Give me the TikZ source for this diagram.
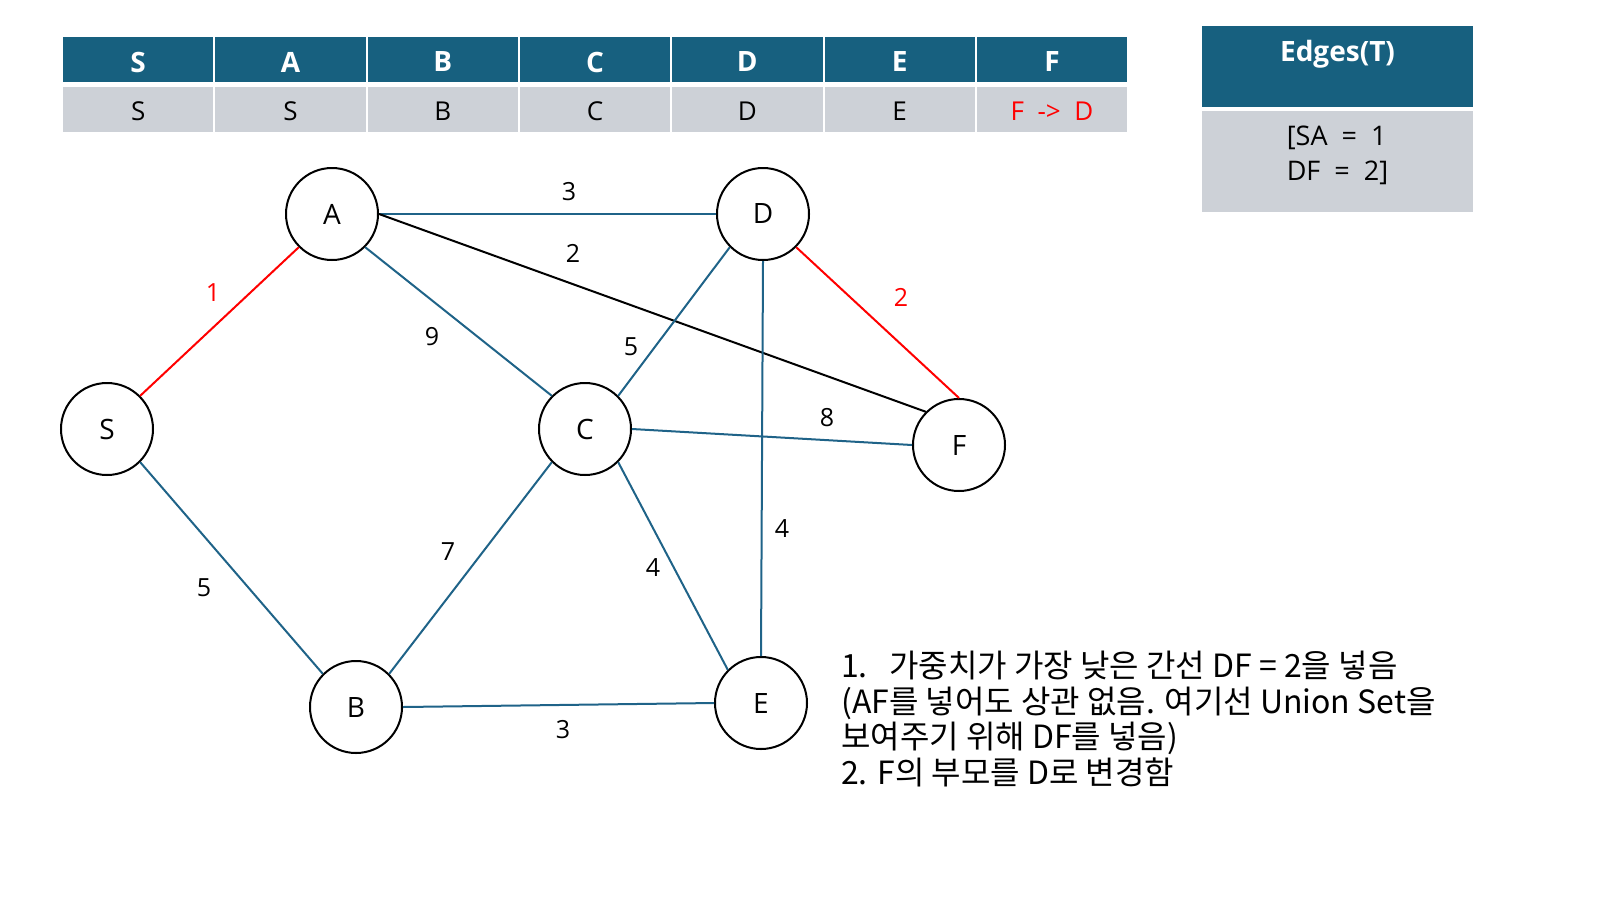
\documentclass[tikz,border=0pt]{standalone}
\usepackage{fontspec}
\setmainfont{Open Sans}
\newfontfamily\kr{Noto Sans CJK KR}
\definecolor{hdr}{HTML}{17607F}
\definecolor{cellgray}{HTML}{CDD1D7}
\definecolor{eblue}{HTML}{1F6388}
\definecolor{ered}{HTML}{FF0000}
\tikzset{
  vtx/.style={circle,draw=black,line width=2pt,fill=white,minimum size=92pt,inner sep=0pt,font=\fontsize{28}{32}\selectfont},
  bl/.style={draw=eblue,line width=2pt},
  rd/.style={draw=ered,line width=2pt},
  bk/.style={draw=black,line width=2pt},
  wlab/.style={font=\fontsize{25}{30}\selectfont,inner sep=0pt},
  hcell/.style={fill=hdr,draw=white,line width=2pt,minimum width=152.3pt,minimum height=47pt,inner sep=0pt,text=white,font=\bfseries\fontsize{28}{32}\selectfont},
  dcell/.style={fill=cellgray,draw=white,line width=2pt,minimum width=152.3pt,minimum height=47pt,inner sep=0pt,text=black,font=\fontsize{26}{30}\selectfont},
  celltext/.style={inner sep=0pt},
  note/.style={anchor=base west,inner sep=0pt,font=\kr\fontsize{32}{36}\selectfont}
}
\begin{document}
\begin{tikzpicture}[x=1pt,y=-1pt]
\useasboundingbox (0,0) rectangle (1600,900);
% table
\foreach \i/\h/\d in {0/S/S,1/A/S,2/B/B,3/C/C,4/D/D,5/E/E}{
  \node[hcell] (h\h) at (62+152.3*\i+76.15,59.5) {};
  \node[dcell] (d\h) at (62+152.3*\i+76.15,109.5) {};
  \node[celltext,text=white,font=\bfseries\fontsize{28}{32}\selectfont] (th\h) at (62+152.3*\i+76.15,62) {\h};
  \node[celltext,font=\fontsize{26}{30}\selectfont] (td\h) at (62+152.3*\i+76.15,111) {\d};
}
\node[hcell] (hF) at (62+152.3*6+76.15,59.5) {};
\node[dcell] (dF) at (62+152.3*6+76.15,109.5) {};
\node[celltext,text=white,font=\bfseries\fontsize{28}{32}\selectfont] (thF) at (62+152.3*6+76.15,62) {F};
\node[celltext,text=ered,font=\fontsize{26}{30}\selectfont] (tdF) at (62+152.3*6+76.15,111) {F\ \ ->\ \ D};
% edges box
\node[fill=hdr,minimum width=271pt,minimum height=81pt,inner sep=0pt] (eh) at (1337.5,66.5) {};
\node[text=white,font=\bfseries\fontsize{28}{32}\selectfont,inner sep=0pt] (et) at (1337.5,54) {Edges(T)};
\node[fill=cellgray,minimum width=271pt,minimum height=101pt,inner sep=0pt] (eb) at (1337.5,161.5) {};
\node[align=left,font=\fontsize{27}{35}\selectfont,inner sep=0pt] (ebt) at (1337.5,155) {[SA\ \ =\ \ 1\\DF\ \ =\ \ 2]};
% vertices
\node[vtx] (A) at (332,214) {A};
\node[vtx] (D) at (763,214) {D};
\node[vtx] (S) at (107,429) {S};
\node[vtx] (C) at (585,429) {C};
\node[vtx] (F) at (959,445) {F};
\node[vtx] (B) at (356,707) {B};
\node[vtx] (E) at (761,703) {E};
% connectors
\draw[rd] (S.north east) -- (A.south west);
\draw[bl] (A.east) -- (D.west);
\draw[bk] (A.east) -- (F.north west);
\draw[bl] (A.south east) -- (C.north west);
\draw[bl] (D.south west) -- (C.north east);
\draw[rd] (D.south east) -- (F.north);
\draw[bl] (D.south) -- (E.north);
\draw[bl] (C.east) -- (F.west);
\draw[bl] (C.south west) -- (B.north east);
\draw[bl] (C.south east) -- (E.north west);
\draw[bl] (S.south east) -- (B.north west);
\draw[bl] (B.east) -- (E.west);
% weights
\node[wlab] (wAD) at (569,192) {3};
\node[wlab] (wAF) at (573,253) {2};
\node[wlab,text=ered] (wSA) at (213,293) {1};
\node[wlab] (wAC) at (432,337) {9};
\node[wlab] (wDC) at (631,347) {5};
\node[wlab,text=ered] (wDF) at (901,297) {2};
\node[wlab] (wCF) at (827,418) {8};
\node[wlab] (wSB) at (204,588) {5};
\node[wlab] (wCB) at (448,552) {7};
\node[wlab] (wCE) at (653,568) {4};
\node[wlab] (wDE) at (782,529) {4};
\node[wlab] (wBE) at (563,730) {3};
% notes
\node[note] (t1) at (841,677) {1.\ \ \ 가중치가 가장 낮은 간선 DF\ =\ 2을 넣음};
\node[note] (t2) at (841,713) {(AF를 넣어도 상관 없음. 여기선 Union Set을};
\node[note] (t3) at (841,748) {보여주기 위해 DF를 넣음)};
\node[note] (t4) at (841,784) {2. F의 부모를 D로 변경함};
\end{tikzpicture}
\end{document}
